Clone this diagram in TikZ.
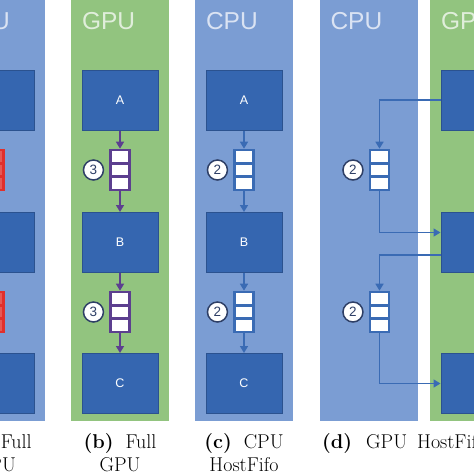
\documentclass[tikz,border=0pt]{standalone}
\usepackage{fontspec}
\newfontfamily\panelfont{Liberation Sans}
\usetikzlibrary{calc,positioning,arrows.meta}
\definecolor{CpuBlue}{HTML}{7B9DD3}
\definecolor{GpuGreen}{HTML}{92C47F}
\definecolor{TaskBlue}{HTML}{3566B0}
\definecolor{TaskEdge}{HTML}{2B528F}
\definecolor{FifoPurple}{HTML}{5C3F8F}
\definecolor{FifoBlue}{HTML}{3A6BB4}
\definecolor{FifoRed}{HTML}{E0302C}
\definecolor{CountEdge}{HTML}{2E3F66}

\begin{document}
\begin{tikzpicture}[x=1pt,y=-1pt,
    column/.style={fill=#1, minimum width=98pt, minimum height=426pt, inner sep=0pt, anchor=north},
    colname/.style={anchor=west, inner sep=0pt, text=white!72!#1,
      font=\panelfont\fontsize{24.5}{24.5}\selectfont},
    task/.style={draw=TaskEdge, fill=TaskBlue, line width=1pt, minimum width=76pt,
      minimum height=60pt, inner sep=0pt, text=white, font=\panelfont\fontsize{12.5}{12.5}\selectfont},
    fifo/.style={draw=#1, fill=white, line width=2.6pt, minimum width=19pt, minimum height=40pt,
      inner sep=0pt,
      path picture={
        \foreach \f in {1,2}
          \draw[#1, line width=2.6pt]
            ($(path picture bounding box.south west)!\f/3!(path picture bounding box.north west)$) --
            ($(path picture bounding box.south east)!\f/3!(path picture bounding box.north east)$);
      }},
    count/.style={circle, draw=CountEdge, fill=white, line width=1.5pt, minimum size=20pt,
      inner sep=0pt, text=CountEdge, font=\panelfont\fontsize{13.5}{13.5}\selectfont},
    flow/.style={draw=#1, line width=1.6pt, -{Triangle[width=8pt,length=7pt]}},
    caption/.style={inner sep=0pt, align=center, font=\fontsize{20}{23}\selectfont}]

  \useasboundingbox (0,0) rectangle (474,474);
  \clip (0,0) rectangle (474,474);

  % (a) full CPU, cut at the left edge
  \node[column=CpuBlue] (col1) at (-4,-5) {};
  \node[colname=CpuBlue] (name1) at ([xshift=11pt]col1.west |- 0,21) {CPU};
  \node[task] (a1) at (-4,100) {};
  \node[task] (b1) at (-4,242.5) {};
  \node[task] (c1) at (-4,383.5) {};
  \node[fifo=FifoRed, fill=FifoRed!80] (q1a) at (-6,170) {};
  \node[fifo=FifoRed, fill=FifoRed!80] (q1b) at (-6,312) {};
  \node[caption, anchor=north] (cap1) at (-4,433) {\textbf{(a)}\hspace{0.6em}Full\\CPU};

  % (b) full GPU
  \node[column=GpuGreen] (col2) at (120,-5) {};
  \node[colname=GpuGreen] (name2) at ([xshift=11pt]col2.west |- 0,21) {GPU};
  \node[task] (a2) at (120,100) {A};
  \node[task] (b2) at (120,242.5) {B};
  \node[task] (c2) at (120,383.5) {C};
  \node[fifo=FifoPurple] (q2a) at (120,170) {};
  \node[fifo=FifoPurple] (q2b) at (120,312) {};
  \node[count, left=5pt of q2a] (n2a) {3};
  \node[count, left=5pt of q2b] (n2b) {3};
  \draw[flow=FifoPurple] (a2) -- (q2a);
  \draw[flow=FifoPurple] (q2a) -- (b2);
  \draw[flow=FifoPurple] (b2) -- (q2b);
  \draw[flow=FifoPurple] (q2b) -- (c2);
  \node[caption, anchor=north] (cap2) at (120,433) {\textbf{(b)}\hspace{0.6em}Full\\GPU};

  % (c) CPU HostFifo
  \node[column=CpuBlue] (col3) at (244,-5) {};
  \node[colname=CpuBlue] (name3) at ([xshift=11pt]col3.west |- 0,21) {CPU};
  \node[task] (a3) at (244,100) {A};
  \node[task] (b3) at (244,242.5) {B};
  \node[task] (c3) at (244,383.5) {C};
  \node[fifo=FifoBlue] (q3a) at (244,170) {};
  \node[fifo=FifoBlue] (q3b) at (244,312) {};
  \node[count, left=5pt of q3a] (n3a) {2};
  \node[count, left=5pt of q3b] (n3b) {2};
  \draw[flow=FifoBlue] (a3) -- (q3a);
  \draw[flow=FifoBlue] (q3a) -- (b3);
  \draw[flow=FifoBlue] (b3) -- (q3b);
  \draw[flow=FifoBlue] (q3b) -- (c3);
  \node[caption, anchor=north] (cap3) at (244,433) {\textbf{(c)}\hspace{0.6em}CPU\\HostFifo};

  % (d) GPU HostFifo: queues on the CPU, tasks on the GPU
  \node[column=CpuBlue] (col4) at (368.5,-5) {};
  \node[colname=CpuBlue] (name4) at ([xshift=11pt]col4.west |- 0,21) {CPU};
  \node[column=GpuGreen] (col5) at (479,-5) {};
  \node[colname=GpuGreen] (name5) at ([xshift=11pt]col5.west |- 0,21) {GPU};
  \node[task] (a4) at (479,100) {};
  \node[task] (b4) at (479,242.5) {};
  \node[task] (c4) at (479,383.5) {};
  \node[fifo=FifoBlue] (q4a) at (379.5,170) {};
  \node[fifo=FifoBlue] (q4b) at (379.5,312) {};
  \node[count, left=5pt of q4a] (n4a) {2};
  \node[count, left=5pt of q4b] (n4b) {2};
  \draw[flow=FifoBlue] (a4.west) -| (q4a.north);
  \draw[flow=FifoBlue] (q4a.south) |- ([yshift=10pt]b4.west);
  \draw[flow=FifoBlue] ([yshift=-12.5pt]b4.west) -| (q4b.north);
  \draw[flow=FifoBlue] (q4b.south) |- (c4.west);
  \node[caption, anchor=north west] (cap4) at (322,433)
    {\textbf{(d)}\hspace{0.7em}GPU\hspace{0.5em}HostFifo};
\end{tikzpicture}
\end{document}
